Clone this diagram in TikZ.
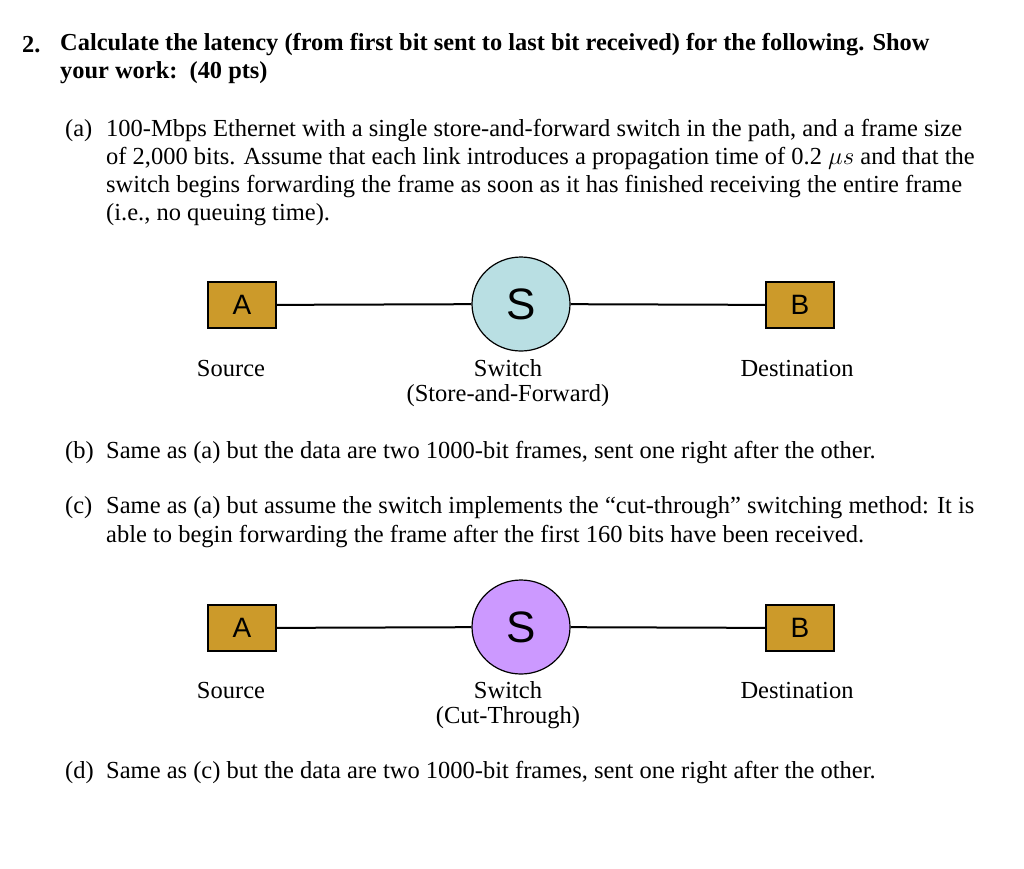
\documentclass[tikz,border=0pt]{standalone}
\usepackage{fontspec}
\usetikzlibrary{shapes.geometric}
\setmainfont{Liberation Serif}
\newfontfamily\sansf{Liberation Sans}
\definecolor{gold}{HTML}{CC9A2A}
\definecolor{lblue}{HTML}{B9DFE3}
\definecolor{lpurp}{HTML}{CC99FF}
\begin{document}
\begin{tikzpicture}[x=1pt,y=-1pt,
  txt/.style={anchor=west,inner sep=0pt,font=\fontsize{24.5}{28}\selectfont},
  btxt/.style={txt,font=\fontsize{24.4}{28}\selectfont\bfseries},
  hostbox/.style={draw,line width=1.2pt,fill=gold,minimum width=68,minimum height=46,inner sep=0pt,font=\sansf\fontsize{28}{30}\selectfont},
  sw/.style={draw,line width=1.2pt,ellipse,minimum width=98,minimum height=94,inner sep=0pt,font=\sansf\fontsize{44}{46}\selectfont},
  lbl/.style={inner sep=0pt,font=\fontsize{24.5}{28}\selectfont},
  link/.style={line width=2pt}]
\useasboundingbox (0,0) rectangle (1024,868);
\node[btxt] (n2) at (22,45) {2.};
\node[btxt] (q1) at (60,45) {Calculate the latency (from first bit sent to last bit received) for the following. Show};
\node[btxt] (q2) at (60,73) {your work:\ \ (40 pts)};
\node[txt] (la) at (65,131) {(a)};
\node[txt] (a1) at (106,131) {100-Mbps Ethernet with a single store-and-forward switch in the path, and a frame size};
\node[txt] (a2) at (106,159) {of 2,000 bits. Assume that each link introduces a propagation time of 0.2 $\mu s$ and that the};
\node[txt] (a3) at (106,187) {switch begins forwarding the frame as soon as it has finished receiving the entire frame};
\node[txt] (a4) at (106,215) {(i.e., no queuing time).};
% diagram 1
\node[hostbox] (A1) at (242,305) {A};
\node[sw,fill=lblue] (S1) at (521,304) {S};
\node[hostbox] (B1) at (800,305) {B};
\draw[link] (A1) -- (S1);
\draw[link] (S1) -- (B1);
\node[lbl] (src1) at (231,368) {Source};
\node[lbl] (swl1) at (508,368) {Switch};
\node[lbl] (swm1) at (508,396) {(Store-and-Forward)};
\node[lbl] (dst1) at (797,368) {Destination};
\node[txt] (lb) at (65,453) {(b)};
\node[txt] (b1) at (106,453) {Same as (a) but the data are two 1000-bit frames, sent one right after the other.};
\node[txt] (lc) at (65,508) {(c)};
\node[txt] (c1) at (106,508) {Same as (a) but assume the switch implements the ``cut-through'' switching method: It is};
\node[txt] (c2) at (106,537) {able to begin forwarding the frame after the first 160 bits have been received.};
% diagram 2
\node[hostbox] (A2) at (242,628) {A};
\node[sw,fill=lpurp] (S2) at (521,627) {S};
\node[hostbox] (B2) at (800,628) {B};
\draw[link] (A2) -- (S2);
\draw[link] (S2) -- (B2);
\node[lbl] (src2) at (231,690) {Source};
\node[lbl] (swl2) at (508,690) {Switch};
\node[lbl] (swm2) at (508,718) {(Cut-Through)};
\node[lbl] (dst2) at (797,690) {Destination};
\node[txt] (ld) at (65,773) {(d)};
\node[txt] (d1) at (106,773) {Same as (c) but the data are two 1000-bit frames, sent one right after the other.};
\end{tikzpicture}
\end{document}
